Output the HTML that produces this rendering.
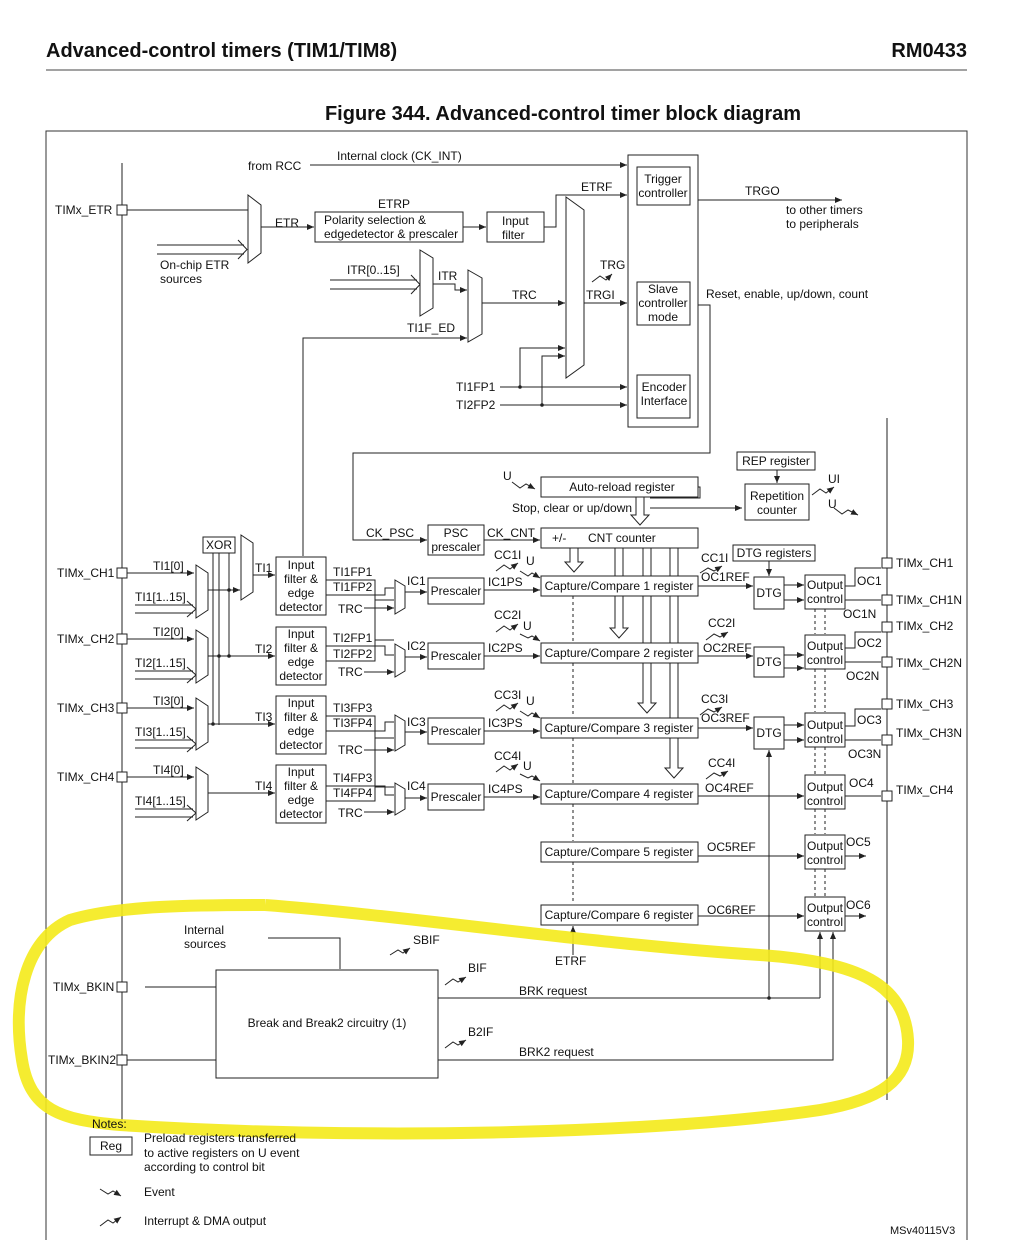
<!DOCTYPE html>
<html><head><meta charset="utf-8"><style>
html,body{margin:0;padding:0;background:#fff}
svg{display:block}
text{font-family:"Liberation Sans",Arial,sans-serif;font-size:12px;fill:#111}
.b{fill:#fff;stroke:#222;stroke-width:1}
.l{stroke:#222;stroke-width:1;fill:none}
</style></head><body>
<svg width="1024" height="1240" viewBox="0 0 1024 1240" xmlns="http://www.w3.org/2000/svg">
<defs>
<marker id="a" markerWidth="8" markerHeight="8" refX="7" refY="4" orient="auto" markerUnits="userSpaceOnUse"><path d="M0,1 L7,4 L0,7 z" fill="#222"/></marker>
</defs>
<text x="46" y="57" style="font-size:20px;font-weight:bold">Advanced-control timers (TIM1/TIM8)</text>
<text x="967" y="57" text-anchor="end" style="font-size:20px;font-weight:bold">RM0433</text>
<line x1="46" y1="70" x2="967" y2="70" stroke="#444"/>
<text x="563" y="120" text-anchor="middle" style="font-size:20px;font-weight:bold">Figure 344. Advanced-control timer block diagram</text>
<rect x="46" y="131" width="921" height="1120" fill="none" stroke="#333"/>
<line x1="122" y1="163" x2="122" y2="1120" stroke="#222"/>
<line x1="887" y1="418" x2="887" y2="1100" stroke="#222"/>

<text x="248" y="170">from RCC</text>
<text x="337" y="160">Internal clock (CK_INT)</text>
<line class="l" x1="310" y1="165" x2="627" y2="165" marker-end="url(#a)"/>
<rect class="b" x="628" y="155" width="70" height="272"/>
<rect class="b" x="637" y="167" width="53" height="38"/><text x="663" y="183" text-anchor="middle">Trigger</text><text x="663" y="197" text-anchor="middle">controller</text>
<rect class="b" x="637" y="282" width="53" height="43"/><text x="663" y="293" text-anchor="middle">Slave</text><text x="663" y="307" text-anchor="middle">controller</text><text x="663" y="321" text-anchor="middle">mode</text>
<rect class="b" x="637" y="375" width="53" height="43"/><text x="664" y="391" text-anchor="middle">Encoder</text><text x="664" y="405" text-anchor="middle">Interface</text>
<line class="l" x1="698" y1="200" x2="842" y2="200" marker-end="url(#a)"/>
<text x="745" y="195">TRGO</text><text x="786" y="214">to other timers</text><text x="786" y="228">to peripherals</text>
<text x="706" y="298">Reset, enable, up/down, count</text>
<text x="55" y="214">TIMx_ETR</text><rect class="b" x="117" y="205" width="10" height="10"/>
<line class="l" x1="127" y1="210" x2="248" y2="210"/>
<path class="b" d="M248,195 L261,205 L261,253 L248,263 z"/>
<text x="275" y="227">ETR</text>
<line class="l" x1="261" y1="227" x2="314" y2="227" marker-end="url(#a)"/>
<rect class="b" x="315" y="212" width="148" height="30"/><text x="324" y="224">Polarity selection &amp;</text><text x="324" y="238">edgedetector &amp; prescaler</text>
<text x="378" y="208">ETRP</text>
<line class="l" x1="463" y1="227" x2="486" y2="227" marker-end="url(#a)"/>
<rect class="b" x="487" y="212" width="57" height="30"/><text x="502" y="225">Input</text><text x="502" y="239">filter</text>
<polyline class="l" points="544,227 556,227 556,195 627,195" marker-end="url(#a)"/>
<text x="581" y="191">ETRF</text>
<path class="b" d="M566,197 L584,210 L584,365 L566,378 z"/>
<line class="l" x1="157" y1="245" x2="244" y2="245"/><line class="l" x1="157" y1="254" x2="244" y2="254"/><path d="M238,240 L247,249.5 L238,259" class="l"/>
<text x="160" y="269">On-chip ETR</text><text x="160" y="283">sources</text>
<text x="347" y="274">ITR[0..15]</text>
<line class="l" x1="330" y1="280" x2="417" y2="280"/><line class="l" x1="330" y1="289" x2="417" y2="289"/><path d="M411,275 L420,284.5 L411,294" class="l"/>
<path class="b" d="M420,250 L433,258 L433,308 L420,316 z"/>
<text x="438" y="280">ITR</text>
<polyline class="l" points="433,284 455,284 455,290 467,290" marker-end="url(#a)"/>
<path class="b" d="M468,270 L482,278 L482,334 L468,342 z"/>
<text x="512" y="299">TRC</text>
<line class="l" x1="482" y1="303" x2="565" y2="303" marker-end="url(#a)"/>
<text x="586" y="299">TRGI</text><line class="l" x1="584" y1="303" x2="627" y2="303" marker-end="url(#a)"/>
<text x="600" y="269">TRG</text><polyline class="l" points="592,282 600,276 606,280 612,274" marker-end="url(#a)"/>
<text x="407" y="332">TI1F_ED</text>
<polyline class="l" points="303,556 303,338 467,338" marker-end="url(#a)"/>
<text x="456" y="391">TI1FP1</text><line class="l" x1="500" y1="387" x2="627" y2="387" marker-end="url(#a)"/>
<text x="456" y="409">TI2FP2</text><line class="l" x1="500" y1="405" x2="627" y2="405" marker-end="url(#a)"/>
<polyline class="l" points="520,387 520,348 565,348" marker-end="url(#a)"/>
<polyline class="l" points="542,405 542,356 565,356" marker-end="url(#a)"/>
<circle cx="520" cy="387" r="1.8" fill="#222"/><circle cx="542" cy="405" r="1.8" fill="#222"/>
<polyline class="l" points="698,305 710,305 710,453 353,453 353,540 427,540" marker-end="url(#a)"/>
<text x="366" y="537">CK_PSC</text>
<rect class="b" x="428" y="525" width="56" height="30"/><text x="456" y="537" text-anchor="middle">PSC</text><text x="456" y="551" text-anchor="middle">prescaler</text>
<text x="487" y="537">CK_CNT</text><line class="l" x1="484" y1="540" x2="540" y2="540" marker-end="url(#a)"/>
<rect class="b" x="541" y="528" width="157" height="20"/><text x="552" y="542">+/-</text><text x="588" y="542">CNT counter</text>
<rect class="b" x="541" y="477" width="157" height="20"/><text x="622" y="491" text-anchor="middle">Auto-reload register</text>
<text x="503" y="480">U</text><polyline class="l" points="512,482 520,488 526,484 535,489" marker-end="url(#a)"/>
<text x="512" y="512">Stop, clear or up/down</text>
<path class="b" d="M636,497 L644,497 L644,515 L649,515 L640,525 L631,515 L636,515 z"/>
<polyline class="l" points="698,487 700,487 700,498 650,498"/>
<line class="l" x1="650" y1="508" x2="742" y2="508" marker-end="url(#a)"/>
<rect class="b" x="737" y="452" width="78" height="18"/><text x="776" y="465" text-anchor="middle">REP register</text>
<line class="l" x1="777" y1="470" x2="777" y2="483" marker-end="url(#a)"/>
<rect class="b" x="745" y="484" width="64" height="36"/><text x="777" y="500" text-anchor="middle">Repetition</text><text x="777" y="514" text-anchor="middle">counter</text>
<text x="828" y="483">UI</text><polyline class="l" points="812,495 820,489 826,493 834,487" marker-end="url(#a)"/>
<text x="828" y="508">U</text><polyline class="l" points="834,508 842,514 848,510 858,515" marker-end="url(#a)"/>
<rect class="b" x="733" y="545" width="82" height="16"/><text x="774" y="557" text-anchor="middle">DTG registers</text>

<g class="b">
<path d="M570,548 L578,548 L578,562 L583,562 L574,572 L565,562 L570,562 z"/>
<path d="M615,548 L623,548 L623,628 L628,628 L619,638 L610,628 L615,628 z"/>
<path d="M643,548 L651,548 L651,703 L656,703 L647,713 L638,703 L643,703 z"/>
<path d="M670,548 L678,548 L678,768 L683,768 L674,778 L665,768 L670,768 z"/>
</g>

<rect class="b" x="203" y="537" width="32" height="16"/><text x="219" y="549" text-anchor="middle">XOR</text>
<path class="b" d="M241,535 L253,543 L253,592 L241,600 z"/>
<text x="255" y="572">TI1</text><line class="l" x1="253" y1="575" x2="275" y2="575" marker-end="url(#a)"/>
<line class="l" x1="219" y1="553" x2="219" y2="725"/>
<line class="l" x1="229" y1="553" x2="229" y2="590"/>
<line class="l" x1="213" y1="553" x2="213" y2="590"/>

<text x="57" y="577">TIMx_CH1</text><rect class="b" x="117" y="568" width="10" height="10"/>
<text x="57" y="643">TIMx_CH2</text><rect class="b" x="117" y="634" width="10" height="10"/>
<text x="57" y="712">TIMx_CH3</text><rect class="b" x="117" y="703" width="10" height="10"/>
<text x="57" y="781">TIMx_CH4</text><rect class="b" x="117" y="772" width="10" height="10"/>
<line class="l" x1="127" y1="573" x2="194" y2="573" marker-end="url(#a)"/>
<line class="l" x1="127" y1="639" x2="194" y2="639" marker-end="url(#a)"/>
<line class="l" x1="127" y1="708" x2="194" y2="708" marker-end="url(#a)"/>
<line class="l" x1="127" y1="777" x2="194" y2="777" marker-end="url(#a)"/>
<text x="153" y="570">TI1[0]</text><text x="135" y="601">TI1[1..15]</text>
<text x="153" y="636">TI2[0]</text><text x="135" y="667">TI2[1..15]</text>
<text x="153" y="705">TI3[0]</text><text x="135" y="736">TI3[1..15]</text>
<text x="153" y="774">TI4[0]</text><text x="135" y="805">TI4[1..15]</text>
<g class="l">
<line x1="135" y1="605" x2="193" y2="605"/><line x1="135" y1="613" x2="193" y2="613"/><path d="M187,601 L196,609 L187,617"/>
<line x1="135" y1="671" x2="193" y2="671"/><line x1="135" y1="679" x2="193" y2="679"/><path d="M187,667 L196,675 L187,683"/>
<line x1="135" y1="740" x2="193" y2="740"/><line x1="135" y1="748" x2="193" y2="748"/><path d="M187,736 L196,744 L187,752"/>
<line x1="135" y1="809" x2="193" y2="809"/><line x1="135" y1="817" x2="193" y2="817"/><path d="M187,805 L196,813 L187,821"/>
</g>
<g class="b">
<path d="M196,565 L208,573 L208,610 L196,618 z"/>
<path d="M196,630 L208,638 L208,675 L196,683 z"/>
<path d="M196,698 L208,706 L208,742 L196,750 z"/>
<path d="M196,767 L208,775 L208,812 L196,820 z"/>
</g>
<polyline class="l" points="208,590 240,590" marker-end="url(#a)"/>
<polyline class="l" points="208,656 229,656 229,590"/>
<polyline class="l" points="208,724 213,724 213,590"/>
<line class="l" x1="208" y1="656" x2="275" y2="656" marker-end="url(#a)"/><text x="255" y="653">TI2</text>
<line class="l" x1="208" y1="724" x2="275" y2="724" marker-end="url(#a)"/><text x="255" y="721">TI3</text>
<line class="l" x1="208" y1="793" x2="275" y2="793" marker-end="url(#a)"/><text x="255" y="790">TI4</text>
<circle cx="229" cy="590" r="1.8" fill="#222"/><circle cx="219" cy="656" r="1.8" fill="#222"/><circle cx="229" cy="656" r="1.8" fill="#222"/><circle cx="213" cy="724" r="1.8" fill="#222"/>

<rect class="b" x="276" y="557" width="50" height="58"/><text x="301" y="569" text-anchor="middle">Input</text><text x="301" y="583" text-anchor="middle">filter &amp;</text><text x="301" y="597" text-anchor="middle">edge</text><text x="301" y="611" text-anchor="middle">detector</text>
<rect class="b" x="276" y="627" width="50" height="58"/><text x="301" y="638" text-anchor="middle">Input</text><text x="301" y="652" text-anchor="middle">filter &amp;</text><text x="301" y="666" text-anchor="middle">edge</text><text x="301" y="680" text-anchor="middle">detector</text>
<rect class="b" x="276" y="696" width="50" height="58"/><text x="301" y="707" text-anchor="middle">Input</text><text x="301" y="721" text-anchor="middle">filter &amp;</text><text x="301" y="735" text-anchor="middle">edge</text><text x="301" y="749" text-anchor="middle">detector</text>
<rect class="b" x="276" y="765" width="50" height="58"/><text x="301" y="776" text-anchor="middle">Input</text><text x="301" y="790" text-anchor="middle">filter &amp;</text><text x="301" y="804" text-anchor="middle">edge</text><text x="301" y="818" text-anchor="middle">detector</text>

<text x="333" y="576">TI1FP1</text><text x="333" y="591">TI1FP2</text><text x="338" y="613">TRC</text>
<text x="333" y="642">TI2FP1</text><text x="333" y="658">TI2FP2</text><text x="338" y="676">TRC</text>
<text x="333" y="712">TI3FP3</text><text x="333" y="727">TI3FP4</text><text x="338" y="754">TRC</text>
<text x="333" y="782">TI4FP3</text><text x="333" y="797">TI4FP4</text><text x="338" y="817">TRC</text>
<g class="l">
<polyline points="326,580 375,580 375,640 394,640"/>
<polyline points="326,595 385,595 385,588 394,588"/>
<polyline points="326,646 385,646 385,655 394,655"/>
<polyline points="326,661 375,661 375,600 394,600"/>
<polyline points="326,716 375,716 375,787 394,787"/>
<polyline points="326,731 385,731 385,722 394,722"/>
<polyline points="326,786 385,786 385,795 394,795"/>
<polyline points="326,801 375,801 375,738 394,738"/>
</g>
<line class="l" x1="364" y1="608" x2="394" y2="608" marker-end="url(#a)"/>
<line class="l" x1="364" y1="672" x2="394" y2="672" marker-end="url(#a)"/>
<line class="l" x1="364" y1="750" x2="394" y2="750" marker-end="url(#a)"/>
<line class="l" x1="364" y1="812" x2="394" y2="812" marker-end="url(#a)"/>
<g class="b">
<path d="M395,580 L405,586 L405,608 L395,614 z"/>
<path d="M395,644 L405,650 L405,671 L395,677 z"/>
<path d="M395,715 L405,721 L405,745 L395,751 z"/>
<path d="M395,783 L405,789 L405,809 L395,815 z"/>
</g>
<text x="407" y="585">IC1</text><text x="407" y="650">IC2</text><text x="407" y="726">IC3</text><text x="407" y="790">IC4</text>
<line class="l" x1="405" y1="592" x2="427" y2="592" marker-end="url(#a)"/>
<line class="l" x1="405" y1="657" x2="427" y2="657" marker-end="url(#a)"/>
<line class="l" x1="405" y1="732" x2="427" y2="732" marker-end="url(#a)"/>
<line class="l" x1="405" y1="798" x2="427" y2="798" marker-end="url(#a)"/>
<rect class="b" x="428" y="578" width="56" height="26"/><text x="456" y="595" text-anchor="middle">Prescaler</text>
<rect class="b" x="428" y="643" width="56" height="26"/><text x="456" y="660" text-anchor="middle">Prescaler</text>
<rect class="b" x="428" y="718" width="56" height="26"/><text x="456" y="735" text-anchor="middle">Prescaler</text>
<rect class="b" x="428" y="784" width="56" height="26"/><text x="456" y="801" text-anchor="middle">Prescaler</text>
<text x="488" y="586">IC1PS</text><text x="488" y="652">IC2PS</text><text x="488" y="727">IC3PS</text><text x="488" y="793">IC4PS</text>
<line class="l" x1="484" y1="590" x2="540" y2="590" marker-end="url(#a)"/>
<line class="l" x1="484" y1="656" x2="540" y2="656" marker-end="url(#a)"/>
<line class="l" x1="484" y1="731" x2="540" y2="731" marker-end="url(#a)"/>
<line class="l" x1="484" y1="797" x2="540" y2="797" marker-end="url(#a)"/>
<text x="494" y="559">CC1I</text><text x="526" y="565">U</text>
<text x="494" y="619">CC2I</text><text x="523" y="630">U</text>
<text x="494" y="699">CC3I</text><text x="526" y="705">U</text>
<text x="494" y="760">CC4I</text><text x="523" y="770">U</text>
<g class="l">
<polyline points="496,571 504,565 510,569 518,563" marker-end="url(#a)"/><polyline points="520,571 528,576 532,573 540,578" marker-end="url(#a)"/>
<polyline points="496,632 504,626 510,630 518,624" marker-end="url(#a)"/><polyline points="520,634 528,638 532,636 540,641" marker-end="url(#a)"/>
<polyline points="496,711 504,705 510,709 518,703" marker-end="url(#a)"/><polyline points="520,711 528,716 532,713 540,718" marker-end="url(#a)"/>
<polyline points="496,772 504,766 510,770 518,764" marker-end="url(#a)"/><polyline points="520,774 528,778 532,776 540,781" marker-end="url(#a)"/>
</g>
<rect class="b" x="541" y="576" width="157" height="20"/><text x="619" y="590" text-anchor="middle">Capture/Compare 1 register</text>
<rect class="b" x="541" y="643" width="157" height="20"/><text x="619" y="657" text-anchor="middle">Capture/Compare 2 register</text>
<rect class="b" x="541" y="718" width="157" height="20"/><text x="619" y="732" text-anchor="middle">Capture/Compare 3 register</text>
<rect class="b" x="541" y="784" width="157" height="20"/><text x="619" y="798" text-anchor="middle">Capture/Compare 4 register</text>
<rect class="b" x="541" y="842" width="157" height="20"/><text x="619" y="856" text-anchor="middle">Capture/Compare 5 register</text>
<rect class="b" x="541" y="905" width="157" height="20"/><text x="619" y="919" text-anchor="middle">Capture/Compare 6 register</text>
<g class="l" stroke-dasharray="3,3">
<line x1="573" y1="596" x2="573" y2="642"/><line x1="573" y1="663" x2="573" y2="717"/><line x1="573" y1="738" x2="573" y2="783"/><line x1="573" y1="804" x2="573" y2="841"/><line x1="573" y1="862" x2="573" y2="904"/>
</g>
<line class="l" x1="573" y1="955" x2="573" y2="926" marker-end="url(#a)"/><text x="555" y="965">ETRF</text>
<text x="701" y="562">CC1I</text><text x="701" y="581">OC1REF</text>
<text x="708" y="627">CC2I</text><text x="703" y="652">OC2REF</text>
<text x="701" y="703">CC3I</text><text x="701" y="722">OC3REF</text>
<text x="708" y="767">CC4I</text><text x="705" y="792">OC4REF</text>
<text x="707" y="851">OC5REF</text><text x="707" y="914">OC6REF</text>
<g class="l">
<polyline points="700,573 708,568 714,571 722,566" marker-end="url(#a)"/>
<polyline points="706,640 714,634 720,637 728,632" marker-end="url(#a)"/>
<polyline points="700,715 708,709 714,712 722,707" marker-end="url(#a)"/>
<polyline points="706,779 714,773 720,776 728,771" marker-end="url(#a)"/>
</g>
<line class="l" x1="698" y1="586" x2="753" y2="586" marker-end="url(#a)"/>
<line class="l" x1="698" y1="656" x2="753" y2="656" marker-end="url(#a)"/>
<line class="l" x1="698" y1="728" x2="753" y2="728" marker-end="url(#a)"/>
<line class="l" x1="698" y1="796" x2="804" y2="796" marker-end="url(#a)"/>
<line class="l" x1="698" y1="856" x2="804" y2="856" marker-end="url(#a)"/>
<line class="l" x1="698" y1="916" x2="804" y2="916" marker-end="url(#a)"/>
<line class="l" x1="769" y1="561" x2="769" y2="576" marker-end="url(#a)"/>
<rect class="b" x="754" y="577" width="30" height="32"/><text x="769" y="597" text-anchor="middle">DTG</text>
<rect class="b" x="754" y="647" width="30" height="30"/><text x="769" y="666" text-anchor="middle">DTG</text>
<rect class="b" x="754" y="717" width="30" height="32"/><text x="769" y="737" text-anchor="middle">DTG</text>
<g class="l">
<line x1="784" y1="585" x2="804" y2="585" marker-end="url(#a)"/><line x1="784" y1="600" x2="804" y2="600" marker-end="url(#a)"/>
<line x1="784" y1="655" x2="804" y2="655" marker-end="url(#a)"/><line x1="784" y1="668" x2="804" y2="668" marker-end="url(#a)"/>
<line x1="784" y1="725" x2="804" y2="725" marker-end="url(#a)"/><line x1="784" y1="740" x2="804" y2="740" marker-end="url(#a)"/>
</g>
<rect class="b" x="805" y="575" width="40" height="34"/><text x="825" y="589" text-anchor="middle">Output</text><text x="825" y="603" text-anchor="middle">control</text>
<rect class="b" x="805" y="635" width="40" height="34"/><text x="825" y="650" text-anchor="middle">Output</text><text x="825" y="664" text-anchor="middle">control</text>
<rect class="b" x="805" y="713" width="40" height="34"/><text x="825" y="729" text-anchor="middle">Output</text><text x="825" y="743" text-anchor="middle">control</text>
<rect class="b" x="805" y="775" width="40" height="34"/><text x="825" y="791" text-anchor="middle">Output</text><text x="825" y="805" text-anchor="middle">control</text>
<rect class="b" x="805" y="835" width="40" height="34"/><text x="825" y="850" text-anchor="middle">Output</text><text x="825" y="864" text-anchor="middle">control</text>
<rect class="b" x="805" y="897" width="40" height="34"/><text x="825" y="912" text-anchor="middle">Output</text><text x="825" y="926" text-anchor="middle">control</text>
<g class="l" stroke-dasharray="3,3">
<line x1="815" y1="609" x2="815" y2="634"/><line x1="825" y1="609" x2="825" y2="634"/>
<line x1="815" y1="669" x2="815" y2="712"/><line x1="825" y1="669" x2="825" y2="712"/>
<line x1="815" y1="747" x2="815" y2="774"/><line x1="825" y1="747" x2="825" y2="774"/>
<line x1="815" y1="809" x2="815" y2="834"/><line x1="825" y1="809" x2="825" y2="834"/>
<line x1="815" y1="869" x2="815" y2="896"/><line x1="825" y1="869" x2="825" y2="896"/>
</g>
<g class="l">
<polyline points="845,586 855,586 855,568 881,568"/><polyline points="845,600 881,600"/>
<polyline points="845,648 855,648 855,632 881,632"/><polyline points="845,662 881,662"/>
<polyline points="845,726 855,726 855,709 881,709"/><polyline points="845,740 881,740"/>
<polyline points="845,796 881,796"/>
</g>
<line class="l" x1="845" y1="856" x2="866" y2="856" marker-end="url(#a)"/>
<line class="l" x1="845" y1="916" x2="866" y2="916" marker-end="url(#a)"/>
<text x="857" y="585">OC1</text><text x="843" y="618">OC1N</text>
<text x="857" y="647">OC2</text><text x="846" y="680">OC2N</text>
<text x="857" y="724">OC3</text><text x="848" y="758">OC3N</text>
<text x="849" y="787">OC4</text><text x="846" y="846">OC5</text><text x="846" y="909">OC6</text>
<rect class="b" x="882" y="558" width="10" height="10"/><text x="896" y="567">TIMx_CH1</text>
<rect class="b" x="882" y="595" width="10" height="10"/><text x="896" y="604">TIMx_CH1N</text>
<rect class="b" x="882" y="622" width="10" height="10"/><text x="896" y="630">TIMx_CH2</text>
<rect class="b" x="882" y="657" width="10" height="10"/><text x="896" y="667">TIMx_CH2N</text>
<rect class="b" x="882" y="699" width="10" height="10"/><text x="896" y="708">TIMx_CH3</text>
<rect class="b" x="882" y="735" width="10" height="10"/><text x="896" y="737">TIMx_CH3N</text>
<rect class="b" x="882" y="791" width="10" height="10"/><text x="896" y="794">TIMx_CH4</text>

<text x="184" y="934">Internal</text><text x="184" y="948">sources</text>
<polyline class="l" points="268,938 340,938 340,969"/>
<rect class="b" x="216" y="970" width="222" height="108"/>
<text x="327" y="1027" text-anchor="middle">Break and Break2 circuitry (1)</text>
<text x="53" y="991">TIMx_BKIN</text><rect class="b" x="117" y="982" width="10" height="10"/>
<line class="l" x1="145" y1="987" x2="216" y2="987"/>
<text x="48" y="1064">TIMx_BKIN2</text><rect class="b" x="117" y="1055" width="10" height="10"/>
<line class="l" x1="127" y1="1060" x2="216" y2="1060"/>
<text x="413" y="944">SBIF</text><polyline class="l" points="390,955 398,950 403,953 410,948" marker-end="url(#a)"/>
<text x="468" y="972">BIF</text><polyline class="l" points="445,985 453,979 458,982 466,977" marker-end="url(#a)"/>
<text x="468" y="1036">B2IF</text><polyline class="l" points="445,1048 453,1042 458,1045 466,1040" marker-end="url(#a)"/>
<text x="519" y="995">BRK request</text>
<line class="l" x1="438" y1="998" x2="820" y2="998"/>
<line class="l" x1="769" y1="998" x2="769" y2="750" marker-end="url(#a)"/>
<line class="l" x1="820" y1="998" x2="820" y2="932" marker-end="url(#a)"/>
<circle cx="769" cy="998" r="1.8" fill="#222"/>
<text x="519" y="1056">BRK2 request</text>
<polyline class="l" points="438,1060 833,1060 833,932" marker-end="url(#a)"/>

<path d="M265,905 C400,915 600,945 760,955 C860,962 905,985 908,1040 C910,1080 880,1100 820,1110 C650,1135 350,1140 120,1125 C60,1120 30,1110 22,1060 C12,1000 25,940 70,920 C120,905 200,905 265,905" fill="none" stroke="#f4ea1a" stroke-width="12" opacity="0.9"/>

<text x="92" y="1128">Notes:</text>
<rect class="b" x="90" y="1137" width="42" height="18"/><text x="111" y="1150" text-anchor="middle">Reg</text>
<text x="144" y="1142">Preload registers transferred</text><text x="144" y="1157">to active registers on U event</text><text x="144" y="1171">according to control bit</text>
<polyline class="l" points="100,1189 108,1194 113,1191 121,1196" marker-end="url(#a)"/><text x="144" y="1196">Event</text>
<polyline class="l" points="100,1226 108,1220 113,1223 121,1217" marker-end="url(#a)"/><text x="144" y="1225">Interrupt &amp; DMA output</text>
<text x="890" y="1234" style="font-size:11px">MSv40115V3</text>
</svg>
</body></html>
